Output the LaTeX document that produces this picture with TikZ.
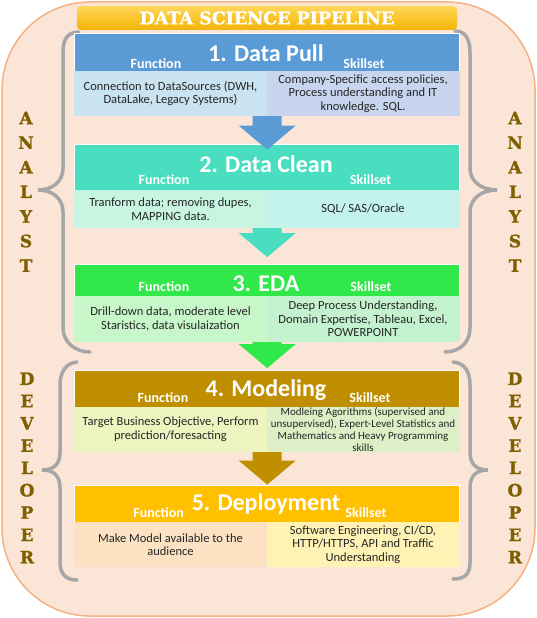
\documentclass[tikz,border=0pt]{standalone}
\usepackage{fontspec}
\setmainfont{Carlito}
\newfontfamily\serifgras[BoldFeatures={FakeBold=1.3}]{DejaVu Serif}
\usepackage{tikz}
\usetikzlibrary{calc,shapes,backgrounds}
\definecolor{peche}{HTML}{FBE5D6}
\definecolor{bordpeche}{HTML}{F4B183}
\definecolor{brun}{HTML}{7F6000}
\definecolor{grisacc}{HTML}{A6A6A6}
\definecolor{texte}{HTML}{262626}
\definecolor{orclair}{HTML}{FFD75A}
\definecolor{orfonce}{HTML}{F2B400}
\definecolor{bleu}{HTML}{5B9BD5}
\definecolor{bleuG}{HTML}{C9E3F0}
\definecolor{bleuD}{HTML}{C7D5EE}
\definecolor{turquoise}{HTML}{48DEBF}
\definecolor{turqG}{HTML}{C7F5E2}
\definecolor{turqD}{HTML}{C3F3EC}
\definecolor{vert}{HTML}{30E84A}
\definecolor{vertG}{HTML}{C7F7C9}
\definecolor{vertD}{HTML}{C5F2CE}
\definecolor{or}{HTML}{BF8F00}
\definecolor{orG}{HTML}{EEF4C0}
\definecolor{orD}{HTML}{DCEFC6}
\definecolor{jaune}{HTML}{FFC000}
\definecolor{jauneG}{HTML}{FCE2C3}
\definecolor{jauneD}{HTML}{FFF2B5}
\tikzstyle{entete}=[draw=white,line width=0.8pt,minimum width=385pt,inner sep=0pt]
\tikzstyle{boite}=[minimum width=193pt,inner sep=0pt,align=center,text=texte,font=\fontsize{12.5}{13.6}\selectfont]
\tikzstyle{titre}=[anchor=base,text=white,inner sep=0pt,font=\fontsize{24}{28}\selectfont\bfseries]
\tikzstyle{etiq}=[anchor=base,text=white,inner sep=0pt,font=\fontsize{14}{16}\selectfont\bfseries]
\tikzstyle{accolade}=[draw=grisacc,line width=3.5pt,line cap=round]
\tikzstyle{lettre}=[text=brun,inner sep=0pt,font=\serifgras\bfseries\fontsize{17}{17}\selectfont]

\begin{document}
\begin{tikzpicture}[x=1pt,y=-1pt]
  \useasboundingbox (0,0) rectangle (537,618);
  % fond
  \fill[peche,draw=bordpeche,line width=1.5pt,rounded corners=88pt] (2,2) rectangle (535,616);

  % bandeau du titre
  \node[rounded corners=4pt,top color=orclair,bottom color=orfonce,minimum width=380pt,minimum height=24pt,
    text=white,font=\serifgras\bfseries\fontsize{17.5}{18}\selectfont] (bandeau) at (267,18) {DATA SCIENCE PIPELINE};

  % accolades ANALYST
  \draw[accolade] (79,32) .. controls (67,32) and (63,40) .. (63,52) -- (63,168)
    .. controls (63,182) and (52,190) .. (38,190) .. controls (52,190) and (63,198) .. (63,212)
    -- (63,328) .. controls (63,342) and (75,352) .. (90,352);
  \draw[accolade] (455,31) .. controls (466,31) and (470,40) .. (470,53) -- (470,168)
    .. controls (470,182) and (482,190) .. (497,190) .. controls (482,190) and (470,198) .. (470,212)
    -- (470,328) .. controls (470,342) and (460,352) .. (445,352);
  % accolades DEVELOPER
  \draw[accolade] (77,362) .. controls (66,363) and (60,372) .. (60,385) -- (60,452)
    .. controls (60,464) and (54,470) .. (42,470) .. controls (54,470) and (60,476) .. (60,488)
    -- (60,562) .. controls (60,574) and (66,580) .. (77,580);
  \draw[accolade] (453,362) .. controls (465,363) and (470,372) .. (470,385) -- (470,452)
    .. controls (470,464) and (476,470) .. (488,470) .. controls (476,470) and (470,476) .. (470,488)
    -- (470,562) .. controls (470,574) and (465,579) .. (453,579);

  % lettres laterales
  \foreach \l [count=\k] in {A,N,A,L,Y,S,T} {
    \node[lettre] (ga\k) at (26,{118+24.6*(\k-1)}) {\l};
    \node[lettre] (da\k) at (515,{118+24.6*(\k-1)}) {\l};
  }
  \foreach \l [count=\k] in {D,E,V,E,L,O,P,E,R} {
    \node[lettre] (gd\k) at (27,{378.7+22.3*(\k-1)}) {\l};
    \node[lettre] (dd\k) at (515,{378.7+22.3*(\k-1)}) {\l};
  }

  % bandes des etapes
  \foreach \i/\y/\h/\c in {1/52/38/bleu,2/167/46/turquoise,3/280/32/vert,4/388.5/37/or,5/503.5/37/jaune}
    \node[entete,fill=\c,minimum height=\h pt] (H\i) at (266.5,\y) {};

  % contenus
  \node[boite,fill=bleuG,minimum height=45pt] (G1) at (170.5,93.5) {Connection to DataSources (DWH,\\DataLake, Legacy Systems)};
  \node[boite,fill=bleuD,minimum height=45pt] (D1) at (363,93.5) {Company-Specific access policies,\\Process understanding and IT\\knowledge. SQL.};
  \node[boite,fill=turqG,minimum height=38pt] (G2) at (170.5,209) {Tranform data; removing dupes,\\MAPPING data.};
  \node[boite,fill=turqD,minimum height=38pt] (D2) at (363,209) {SQL/ SAS/Oracle};
  \node[boite,fill=vertG,minimum height=46pt] (G3) at (170.5,319) {Drill-down data, moderate level\\Staristics, data visulaization};
  \node[boite,fill=vertD,minimum height=46pt] (D3) at (363,319) {Deep Process Understanding,\\Domain Expertise, Tableau, Excel,\\POWERPOINT};
  \node[boite,fill=orG,minimum height=45pt] (G4) at (170.5,429.5) {Target Business Objective, Perform\\prediction/foresacting};
  \node[boite,fill=orD,minimum height=45pt,font=\fontsize{11}{12.2}\selectfont] (D4) at (363,429.5) {Modleing Agorithms (supervised and\\unsupervised), Expert-Level Statistics and\\Mathematics and Heavy Programming\\skills};
  \node[boite,fill=jauneG,minimum height=45pt] (G5) at (170.5,544.5) {Make Model available to the\\audience};
  \node[boite,fill=jauneD,minimum height=45pt] (D5) at (363,544.5) {Software Engineering, CI/CD,\\HTTP/HTTPS, API and Traffic\\Understanding};

  % titres
  \node[titre] (T1) at (266,61.6) {1. Data Pull};
  \node[titre] (T2) at (266,172.8) {2. Data Clean};
  \node[titre] (T3) at (266,291.8) {3. EDA};
  \node[titre] (T4) at (266,396.8) {4. Modeling};
  \node[titre] (T5) at (266,510) {5. Deployment};
  \foreach \i/\y/\xf/\xs in {1/68.5/156/364,2/184.8/164/370.6,3/291/164/371,4/402.7/163/370,5/517.7/158.6/366} {
    \node[etiq] (F\i) at (\xf,\y) {Function};
    \node[etiq] (S\i) at (\xs,\y) {Skillset};
  }

  % fleches entre les etapes
  \foreach \i/\j/\c/\d in {1/2/bleu/-6pt,2/3/turquoise/6.5pt,3/4/vert/1.5pt,4/5/or/0pt}
    \fill[\c] let \p1=(G\i.south east), \p2=(H\j.north) in
      (\x1-14.5pt,\y1) -- (\x1+14.5pt,\y1) -- (\x1+14.5pt,\y2+\d+24pt) -- (\x1+28.5pt,\y2+\d+24pt)
      -- (\x1,\y2+\d) -- (\x1-28.5pt,\y2+\d+24pt) -- (\x1-14.5pt,\y2+\d+24pt) -- cycle;
\end{tikzpicture}
\end{document}
